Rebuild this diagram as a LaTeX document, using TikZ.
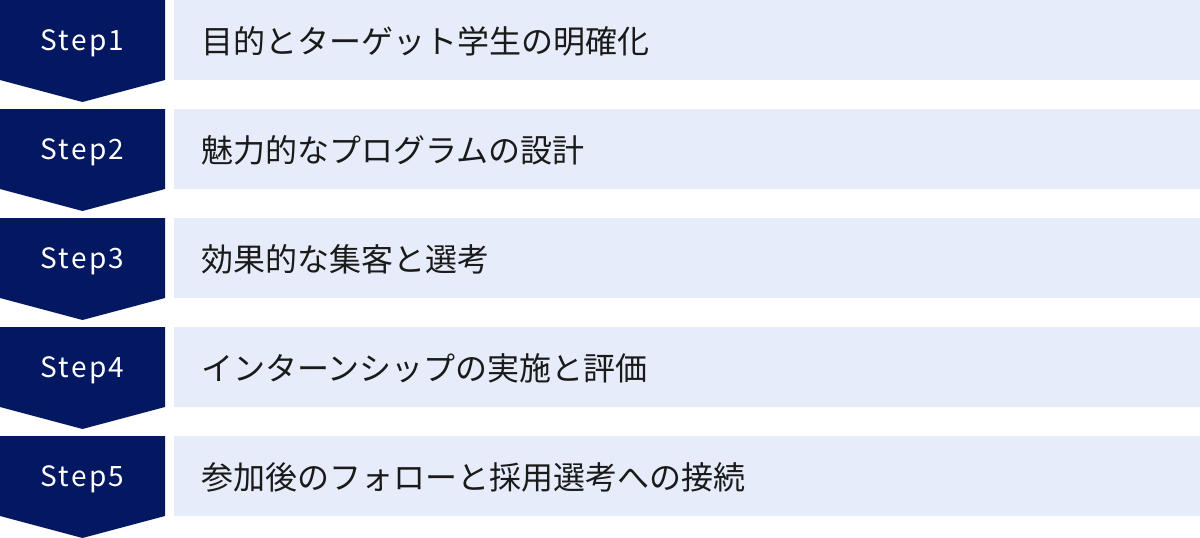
\documentclass[tikz,border=0pt]{standalone}
\usepackage{fontspec}
\setmainfont{Noto Sans CJK JP}
\usetikzlibrary{positioning}

\definecolor{stepnavy}{HTML}{041862}
\definecolor{barblue}{HTML}{E6ECF9}
\definecolor{bartext}{HTML}{1A1A1A}

\tikzset{
  steplabel/.style={text=white, font={\fontsize{28}{32}\selectfont\addfontfeature{LetterSpace=8}}},
  bartitle/.style={text=bartext, anchor=west, font=\fontsize{32}{36}\selectfont},
}

\begin{document}
\begin{tikzpicture}[x=1pt, y=-1pt]

    \useasboundingbox (0,0) rectangle (1200,538);

    \foreach \i/\txt in {1/目的とターゲット学生の明確化,
                         2/魅力的なプログラムの設計,
                         3/効果的な集客と選考,
                         4/インターンシップの実施と評価,
                         5/参加後のフォローと採用選考への接続} {
        \pgfmathsetmacro{\top}{(\i-1)*109}
        % step arrow
        \fill[stepnavy] (0,\top) -- (165,\top) -- (165,\top+80)
            -- (82.5,\top+102) -- (0,\top+80) -- cycle;
        \node[steplabel] (step\i) at (82.5,\top+43) {Step\i};
        % title bar
        \fill[barblue] (174,\top) rectangle (1200,\top+80);
        \node[bartitle] (title\i) at (198,\top+41) {\txt};
    }

\end{tikzpicture}
\end{document}
